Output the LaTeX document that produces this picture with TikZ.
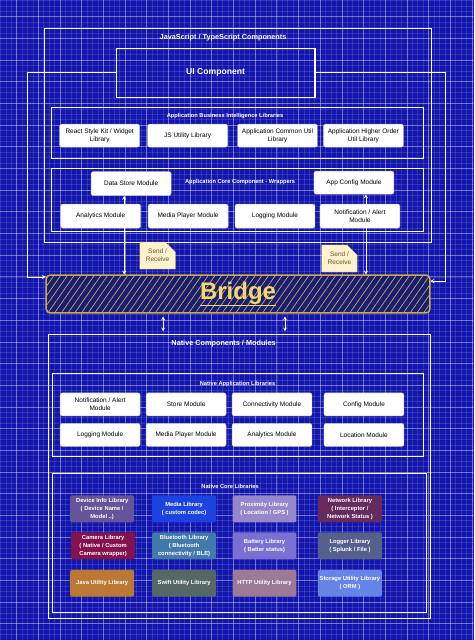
\documentclass[tikz,border=0pt]{standalone}
\usepackage{fontspec}
\setmainfont{Liberation Sans}
\usetikzlibrary{positioning, calc, patterns.meta, shapes.misc}

\definecolor{bgblue}{RGB}{18,22,172}
\definecolor{bridgefill}{RGB}{24,30,120}
\definecolor{bridgeline}{RGB}{205,172,70}
\definecolor{bridgetext}{RGB}{245,215,105}
\definecolor{notefill}{RGB}{255,242,204}
\definecolor{noteline}{RGB}{214,182,86}
\definecolor{notetext}{RGB}{95,85,60}
\definecolor{cdevice}{RGB}{102,84,152}
\definecolor{cmedia}{RGB}{28,66,224}
\definecolor{cprox}{RGB}{150,135,202}
\definecolor{cnet}{RGB}{102,42,92}
\definecolor{ccamera}{RGB}{132,18,78}
\definecolor{cblue}{RGB}{66,120,170}
\definecolor{cbattery}{RGB}{122,112,210}
\definecolor{clogger}{RGB}{86,96,140}
\definecolor{cjava}{RGB}{186,120,52}
\definecolor{cswift}{RGB}{86,104,102}
\definecolor{chttp}{RGB}{156,122,150}
\definecolor{cstorage}{RGB}{102,132,230}

\begin{document}
\begin{tikzpicture}[x=1pt, y=-1pt, >=stealth]
	\tikzstyle{module}=[draw=gray!50, fill=white, rounded corners=2pt, minimum width=80pt, minimum height=24pt, inner sep=1pt, align=center, font=\fontsize{6.5}{7.8}\selectfont];
	\tikzstyle{lib}=[rounded corners=2pt, minimum width=64pt, minimum height=27pt, inner sep=1pt, align=center, text=white, font=\fontsize{5.8}{7.8}\selectfont\bfseries];
	\tikzstyle{frame}=[draw=white, line width=1pt, inner sep=0pt];
	\tikzstyle{title}=[text=white, font=\fontsize{5.7}{6}\selectfont\bfseries];
	\tikzstyle{bigtitle}=[text=white, font=\fontsize{7.3}{8}\selectfont\bfseries];
	\tikzstyle{note}=[chamfered rectangle, chamfered rectangle corners=north east, chamfered rectangle xsep=5pt, chamfered rectangle ysep=5pt, fill=notefill, draw=noteline, minimum width=35pt, minimum height=27pt, inner sep=1pt, align=center, text=notetext, font=\fontsize{6.5}{7.8}\selectfont];
	\tikzstyle{wire}=[draw=white, line width=0.8pt];

   % blueprint background
   \fill[bgblue] (0,0) rectangle (474,640);
   \foreach \i in {0,...,87}
      \draw[white, opacity=0.12, line width=0.3pt] ({\i*5.425},0) -- ({\i*5.425},640);
   \foreach \i in {0,...,118}
      \draw[white, opacity=0.12, line width=0.3pt] (0,{\i*5.425}) -- (474,{\i*5.425});
   \foreach \i in {0,...,21}
      \draw[white, opacity=0.32, line width=0.5pt] ({16.3+\i*21.7},0) -- ({16.3+\i*21.7},640);
   \foreach \i in {0,...,28}
      \draw[white, opacity=0.32, line width=0.5pt] (0,{16.3+\i*21.7}) -- (474,{16.3+\i*21.7});

   % javascript side
   \node[frame, minimum width=388pt, minimum height=214pt] (js) at (238, 135) {};
   \node[bigtitle] (jst) at (223, 37) {JavaScript / TypeScript Components};
   \node[frame, line width=1.2pt, minimum width=199pt, minimum height=49pt, text=white, font=\fontsize{8.6}{9}\selectfont\bfseries] (ui) at (215.5, 72.5) {UI Component};

   \node[frame, minimum width=373pt, minimum height=51pt] (abi) at (237.5, 132.5) {};
   \node[title] (abit) at (225, 116) {Application Business Intelligence Libraries};
   \node[module, minimum height=23pt] (rsk) at (99.5, 135.5) {React Style Kit / Widget\\Library};
   \node[module, minimum height=23pt] (jsu) at (187.5, 135.5) {JS Utility Library};
   \node[module, minimum height=23pt] (acu) at (277.5, 135.5) {Application Common Util\\Library};
   \node[module, minimum height=23pt] (aho) at (363.5, 135.5) {Application Higher Order\\Util Library};

   \node[frame, minimum width=373pt, minimum height=63pt] (core) at (237.5, 199.5) {};
   \node[title] (coret) at (240, 181.5) {Application Core Component - Wrappers};
   \node[module] (ds) at (131, 183.5) {Data Store Module};
   \node[module, minimum height=23pt] (ac) at (354, 182.5) {App Config Module};
   \node[module] (an) at (100.5, 216) {Analytics Module};
   \node[module] (mp) at (188, 216) {Media Player Module};
   \node[module] (lg) at (275, 216) {Logging Module};
   \node[module] (nt) at (360, 216) {Notification / Alert\\Module};

   % bridge
   \node[draw=bridgeline, line width=1.5pt, rounded corners=4pt, minimum width=384pt, minimum height=38pt, preaction={fill=bridgefill}, pattern={Lines[angle=55, distance=5.5pt, line width=0.7pt]}, pattern color=bridgeline, text=bridgetext, font=\fontsize{24}{24}\selectfont\bfseries] (bridge) at (238, 294) {\underline{Bridge}};
   \node[note] (sr1) at (157.5, 255.5) {Send /\\Receive};
   \node[note] (sr2) at (339.5, 258.5) {Send /\\Receive};

   % native side
   \node[frame, minimum width=383pt, minimum height=284pt] (native) at (239.5, 477) {};
   \node[bigtitle] (nativet) at (223.5, 344) {Native Components / Modules};

   \node[frame, minimum width=372pt, minimum height=83pt] (nal) at (238, 415.5) {};
   \node[title] (nalt) at (237.5, 384) {Native Application Libraries};
   \node[module, minimum height=23pt] (nnt) at (100, 404.5) {Notification / Alert\\Module};
   \node[module, minimum height=23pt] (nst) at (186, 404.5) {Store Module};
   \node[module, minimum height=23pt] (ncn) at (272, 404.5) {Connectivity Module};
   \node[module, minimum height=23pt] (ncf) at (364, 404.5) {Config Module};
   \node[module, minimum height=23pt] (nlg) at (100, 435) {Logging Module};
   \node[module, minimum height=23pt] (nmp) at (186, 435) {Media Player Module};
   \node[module, minimum height=23pt] (nan) at (272, 435) {Analytics Module};
   \node[module, minimum height=23pt] (nlc) at (364, 435) {Location Module};

   \node[frame, minimum width=375pt, minimum height=139pt] (ncl) at (239.5, 543.5) {};
   \node[title] (nclt) at (230, 487) {Native Core Libraries};
   \node[lib, fill=cdevice] (dev) at (102, 509) {Device Info Library\\( Device Name /\\Model ..)};
   \node[lib, fill=cmedia] (med) at (184, 509) {Media Library\\( custom codec)};
   \node[lib, fill=cprox] (prx) at (264.5, 509) {Proximity Library\\( Location / GPS )};
   \node[lib, fill=cnet] (net) at (350, 509) {Network Library\\( Interceptor /\\Network Status )};
   \node[lib, fill=ccamera] (cam) at (103, 546) {Camera Library\\( Native / Custom\\Camera wrapper)};
   \node[lib, fill=cblue] (blt) at (184, 546) {Bluetooth Library\\( Bluetooth\\connectivity / BLE)};
   \node[lib, fill=cbattery] (bat) at (264.5, 546) {Battery Library\\( Batter status)};
   \node[lib, fill=clogger] (log) at (350, 546) {Logger Library\\( Splunk / File )};
   \node[lib, fill=cjava] (jav) at (102, 583.5) {Java Utility Library};
   \node[lib, fill=cswift] (swf) at (184, 583.5) {Swift Utility Library};
   \node[lib, fill=chttp] (htp) at (264.5, 583.5) {HTTP Utility Library};
   \node[lib, fill=cstorage] (sto) at (350, 583.5) {Storage Utility Library\\( ORM )};

   % connectors
   \coordinate (lbend) at (27, 277);
   \coordinate (rbend) at (446, 281);
   \coordinate (dsx) at (124, 0);
   \coordinate (acx) at (366, 0);
   \coordinate (d1) at (163, 0);
   \coordinate (d2) at (285, 0);
   \draw[wire, ->] (ui.west) -| (lbend) -- (bridge.west |- lbend);
   \draw[wire, ->] (ui.east) -| (rbend) -- (bridge.east |- rbend);
   \draw[wire, ->] (an.north -| dsx) -- (ds.south -| dsx);
   \draw[wire, ->] (nt.north -| acx) -- (ac.south -| acx);
   \draw[wire, ->] (an.south -| dsx) -- (bridge.north -| dsx);
   \draw[wire, ->] (nt.south -| acx) -- (bridge.north -| acx);
   \draw[wire, <->, shorten <=3pt, shorten >=3pt] (bridge.south -| d1) -- (native.north -| d1);
   \draw[wire, <->, shorten <=3pt, shorten >=3pt] (bridge.south -| d2) -- (native.north -| d2);

\end{tikzpicture}
\end{document}
